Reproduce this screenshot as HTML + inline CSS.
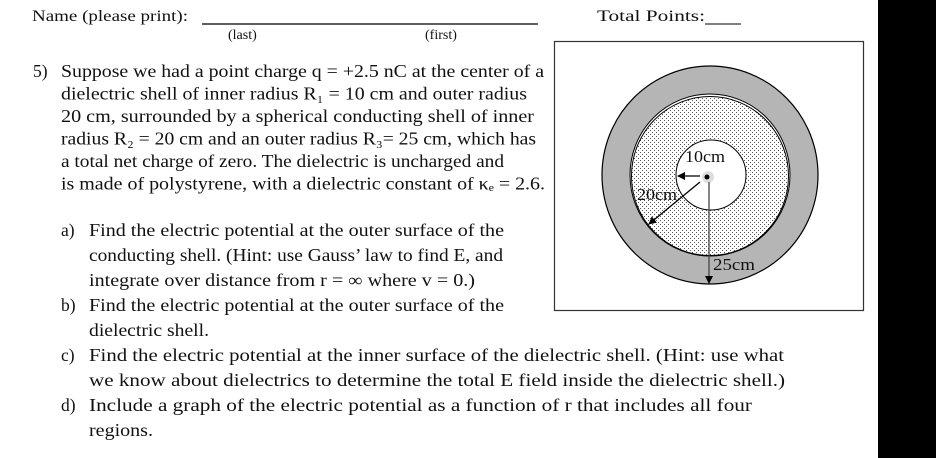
<!DOCTYPE html>
<html><head><meta charset="utf-8"><style>
html,body{margin:0;padding:0;background:#fff;}
svg{display:block;}
.t{font-family:"Liberation Serif",serif;font-size:17.5px;fill:#111;}
.h{font-family:"Liberation Serif",serif;font-size:16px;fill:#111;}
.s{font-family:"Liberation Serif",serif;font-size:14px;fill:#111;}
.d{font-family:"Liberation Serif",serif;font-size:17px;fill:#111;}
</style></head><body>
<svg width="936" height="458" viewBox="0 0 936 458" xmlns="http://www.w3.org/2000/svg">
<defs>
<pattern id="dots" width="4" height="4" patternUnits="userSpaceOnUse">
<rect width="4" height="4" fill="#fff"/>
<rect x="0" y="0" width="1" height="1" fill="#555"/>
<rect x="2" y="2" width="1" height="1" fill="#555"/>
</pattern>
<marker id="ah" markerWidth="8" markerHeight="8" refX="7" refY="4" orient="auto" markerUnits="userSpaceOnUse">
<path d="M0,0 L8,4 L0,8 z" fill="#000"/>
</marker>
</defs>
<rect x="878" y="0" width="58" height="458" fill="#000"/>

<text class="h" x="32" y="21" textLength="156" lengthAdjust="spacingAndGlyphs">Name (please print):</text>
<line x1="202" y1="24" x2="538" y2="24" stroke="#000" stroke-width="1.3"/>
<text class="s" x="228" y="39">(last)</text>
<text class="s" x="425" y="39">(first)</text>
<text class="h" x="597" y="21" textLength="108" lengthAdjust="spacingAndGlyphs">Total Points:</text>
<line x1="705" y1="24" x2="741" y2="24" stroke="#000" stroke-width="1"/>

<text class="t" x="33" y="77">5)</text>
<text class="t" x="61" y="77" textLength="483" lengthAdjust="spacingAndGlyphs">Suppose we had a point charge q = +2.5 nC at the center of a</text>
<text class="t" x="61" y="99.5" textLength="466" lengthAdjust="spacingAndGlyphs">dielectric shell of inner radius R₁ = 10 cm and outer radius</text>
<text class="t" x="61" y="122" textLength="473" lengthAdjust="spacingAndGlyphs">20 cm, surrounded by a spherical conducting shell of inner</text>
<text class="t" x="61" y="144.5" textLength="475" lengthAdjust="spacingAndGlyphs">radius R₂ = 20 cm and an outer radius R₃= 25 cm, which has</text>
<text class="t" x="61" y="167" textLength="443" lengthAdjust="spacingAndGlyphs">a total net charge of zero.  The dielectric is uncharged and</text>
<text class="t" x="61" y="189.5" textLength="484" lengthAdjust="spacingAndGlyphs">is made of polystyrene, with a dielectric constant of κₑ = 2.6.</text>

<text class="t" x="61" y="236">a)</text>
<text class="t" x="89" y="236" textLength="415" lengthAdjust="spacingAndGlyphs">Find the electric potential at the outer surface of the</text>
<text class="t" x="89" y="261" textLength="414" lengthAdjust="spacingAndGlyphs">conducting shell. (Hint: use Gauss’ law to find E, and</text>
<text class="t" x="89" y="286" textLength="386" lengthAdjust="spacingAndGlyphs">integrate over distance from r = ∞  where v = 0.)</text>
<text class="t" x="61" y="311">b)</text>
<text class="t" x="89" y="311" textLength="415" lengthAdjust="spacingAndGlyphs">Find the electric potential at the outer surface of the</text>
<text class="t" x="89" y="336" textLength="120" lengthAdjust="spacingAndGlyphs">dielectric shell.</text>
<text class="t" x="61" y="361">c)</text>
<text class="t" x="89" y="361" textLength="695" lengthAdjust="spacingAndGlyphs">Find the electric potential at the inner surface of the dielectric shell.  (Hint: use what</text>
<text class="t" x="89" y="386" textLength="696" lengthAdjust="spacingAndGlyphs">we know about dielectrics to determine the total E field inside the dielectric shell.)</text>
<text class="t" x="61" y="411">d)</text>
<text class="t" x="89" y="411" textLength="663" lengthAdjust="spacingAndGlyphs">Include a graph of the electric potential as a function of r that includes all four</text>
<text class="t" x="89" y="436" textLength="64" lengthAdjust="spacingAndGlyphs">regions.</text>

<rect x="554.5" y="41.5" width="309" height="269" fill="#fff" stroke="#333" stroke-width="1.2"/>
<ellipse cx="710" cy="175" rx="108" ry="109" fill="#b5b5b5" stroke="#000" stroke-width="1.2"/>
<ellipse cx="710" cy="175" rx="80" ry="81" fill="#fff" stroke="#000" stroke-width="1"/>
<ellipse cx="710" cy="176" rx="78.5" ry="79.5" fill="url(#dots)" stroke="#000" stroke-width="1"/>
<ellipse cx="711" cy="175" rx="35" ry="35" fill="#fff" stroke="#000" stroke-width="1"/>
<circle cx="708" cy="177" r="6" fill="#ddd"/>
<circle cx="707" cy="177" r="2.5" fill="#000"/>
<line x1="700" y1="176" x2="678" y2="176" stroke="#000" stroke-width="1.3" marker-end="url(#ah)"/>
<line x1="700" y1="182" x2="649" y2="224" stroke="#000" stroke-width="1.3" marker-end="url(#ah)"/>
<line x1="709" y1="182" x2="709" y2="283" stroke="#444" stroke-width="1.3" marker-end="url(#ah)"/>
<text class="d" x="685" y="162" textLength="40" lengthAdjust="spacingAndGlyphs">10cm</text>
<text class="d" x="637" y="200" textLength="40" lengthAdjust="spacingAndGlyphs">20cm</text>
<text class="d" x="713" y="270" textLength="42" lengthAdjust="spacingAndGlyphs">25cm</text>
</svg>
</body></html>
